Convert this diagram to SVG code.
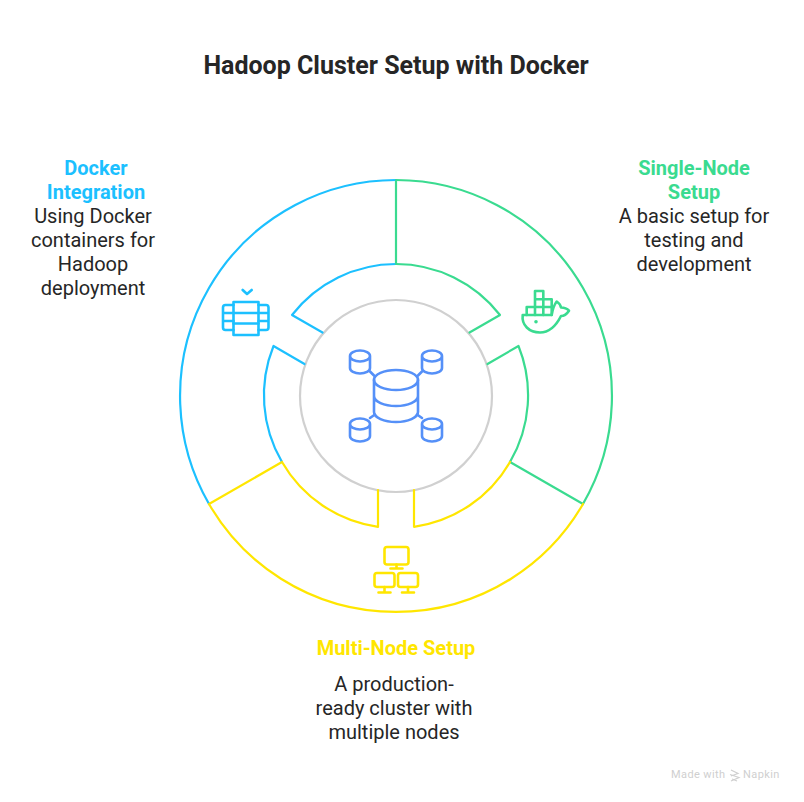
<svg xmlns="http://www.w3.org/2000/svg" width="804" height="802" viewBox="0 0 804 802">
<style>
text{font-family:Roboto,"Liberation Sans",sans-serif;text-anchor:middle}
.t{font-size:25px;font-weight:700;fill:#262626}
.h{font-size:20px;font-weight:700}
.b{font-size:20px;font-weight:400;fill:#262626}
.s{fill:none;stroke-width:2.200;stroke-linecap:round;stroke-linejoin:round}
.i{stroke-width:2.600}
.blue{stroke:#1cc0ff}.green{stroke:#3adb90}.yellow{stroke:#ffe600}.core{stroke:#5590f8}
.wm{font-size:11px;fill:#cfcfcf;text-anchor:start;letter-spacing:.4px}
</style>
<rect width="804" height="802" fill="#fff"/>
<text class="t" x="396" y="74">Hadoop Cluster Setup with Docker</text>
<g id="connectors">
<path class="s green" d="M396 180V264"/>
<path class="s green" d="M583 504L510 462"/>
<path class="s yellow" d="M209 504L282 462"/>
</g>
<g id="center">
<circle cx="396" cy="396" r="96" fill="#fff" stroke="#d0d0d0" stroke-width="2.200"/>
<g class="s i core">
<ellipse cx="396" cy="380" rx="22" ry="10"/>
<path d="M374 380V412C374 417.500 384 422 396 422S418 417.500 418 412V380M374 396C374 401.500 384 406 396 406S418 401.500 418 396"/>
<path d="M350 356C350 353 354.500 350.500 360 350.500S370 353 370 356V368C370 371 365.500 373.500 360 373.500S350 371 350 368ZM350 356C350 359 354.500 361.500 360 361.500S370 359 370 356"/>
<path d="M422 356C422 353 426.500 350.500 432 350.500S442 353 442 356V368C442 371 437.500 373.500 432 373.500S422 371 422 368ZM422 356C422 359 426.500 361.500 432 361.500S442 359 442 356"/>
<path d="M350 424C350 421 354.500 418.500 360 418.500S370 421 370 424V436C370 439 365.500 441.500 360 441.500S350 439 350 436ZM350 424C350 427 354.500 429.500 360 429.500S370 427 370 424"/>
<path d="M422 424C422 421 426.500 418.500 432 418.500S442 421 442 424V436C442 439 437.500 441.500 432 441.500S422 439 422 436ZM422 424C422 427 426.500 429.500 432 429.500S442 427 442 424"/>
<path d="M370 371.500L375 376.500M422 371.500L417 376.500M370 418L375 414.500M422 418L417 414.500"/>
</g>
</g>
<g id="docker-integration">
<path class="s blue" d="M396 180A216 216 0 0 0 209 504"/>
<path class="s blue" d="M396 264A132 132 0 0 0 292 315L322.500 332.500"/>
<path class="s blue" d="M304.500 364L273.500 346A132 132 0 0 0 282 462"/>
<g class="s i blue">
<rect x="233.500" y="302" width="25" height="33"/>
<path d="M233.500 313H258.500M233.500 323.500H258.500M242.700 290L247 294L251.700 290"/>
<path d="M233.500 305H225.500Q223 305 223 307.500V327.500Q223 330 225.500 330H233.500M223 313H233.500M223 321H233.500"/>
<path d="M258.500 305H266Q268.500 305 268.500 307.500V327.500Q268.500 330 266 330H258.500M258.500 313H268.500M258.500 321H268.500"/>
</g>
<text class="h" fill="#1cc0ff"><tspan x="96" y="175">Docker</tspan><tspan x="96" y="199">Integration</tspan></text>
<text class="b"><tspan x="93" y="223">Using Docker</tspan><tspan x="93" y="247">containers for</tspan><tspan x="93" y="271">Hadoop</tspan><tspan x="93" y="295">deployment</tspan></text>
</g>
<g id="single-node-setup">
<path class="s green" d="M396 180A216 216 0 0 1 583 504"/>
<path class="s green" d="M396 264A132 132 0 0 1 500 315L469.500 332.500"/>
<path class="s green" d="M487.500 364L518.500 346A132 132 0 0 1 510 462"/>
<g class="s i green">
<path d="M535 291H543.300V315M535 291V315M535 299.300H551.700V315M535 307H551.700M526.700 307H535M526.700 307V315"/>
<path d="M522.700 315H551.700C552.500 310 554 305 556.700 301.500C559 303 560.500 305 561 307.500C564 307.500 567 308.500 569 310.700C566.500 314.500 563.500 316 561 316C556 326 549 332.500 540 332.500C529 332.500 521.500 325 522.700 315Z"/>
</g>
<circle cx="536" cy="321.700" r="1.800" fill="#3adb90"/>
<text class="h" fill="#3adb90"><tspan x="694" y="175">Single-Node</tspan><tspan x="694" y="199">Setup</tspan></text>
<text class="b"><tspan x="694" y="223">A basic setup for</tspan><tspan x="694" y="247">testing and</tspan><tspan x="694" y="271">development</tspan></text>
</g>
<g id="multi-node-setup">
<path class="s yellow" d="M209 504A216 216 0 0 0 583 504"/>
<path class="s yellow" d="M282 462A132 132 0 0 0 378 526.800V490"/>
<path class="s yellow" d="M414 490V526.800A132 132 0 0 0 510 462"/>
<g class="s i yellow">
<rect x="384.500" y="547" width="24" height="17.500" rx="2.500"/>
<path d="M396.500 564.500V568.500M390.500 568.500H402.500"/>
<rect x="374.500" y="573" width="20" height="14" rx="2.500"/>
<path d="M384.500 587V592.500M378.500 592.500H390.500"/>
<rect x="398" y="573" width="20" height="14" rx="2.500"/>
<path d="M408 587V592.500M402 592.500H414"/>
</g>
<text class="h" fill="#ffe600" x="396" y="655">Multi-Node Setup</text>
<text class="b"><tspan x="394" y="691">A production-</tspan><tspan x="394" y="715">ready cluster with</tspan><tspan x="394" y="739">multiple nodes</tspan></text>
</g>
<g id="watermark">
<text class="wm" x="671" y="778">Made with</text>
<path d="M731 770L738 773.500L731 776M730 774.500L739 777.500L731 781M732 779L737 781" fill="none" stroke="#cfcfcf" stroke-width="1.200"/>
<text class="wm" x="743" y="778">Napkin</text>
</g>
</svg>
